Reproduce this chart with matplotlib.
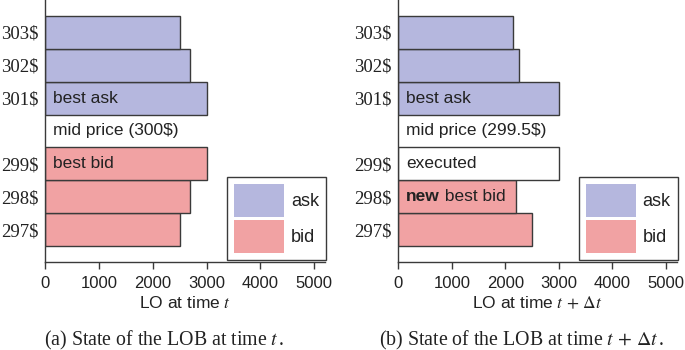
import matplotlib
matplotlib.use("Agg")
import matplotlib.pyplot as plt
from matplotlib.patches import Patch

# ---- data ----
price_ticks = [297, 298, 299, 301, 302, 303]
price_labels = ["297$", "298$", "299$", "301$", "302$", "303$"]

ask_prices = [301, 302, 303]
ask_t = [3000, 2700, 2500]
bid_prices = [297, 298, 299]
bid_t = [2500, 2700, 3000]

ask_prices_dt = [301, 302, 303]
ask_dt = [3000, 2250, 2150]
bid_prices_dt = [297, 298]
bid_dt = [2500, 2200]
executed_price = [299]
executed_vol = [3000]

x_ticks = [0, 1000, 2000, 3000, 4000, 5000]

ASK = "#b5b7de"
BID = "#f1a2a3"
EDGE = "#3a3a3a"

plt.rcParams["mathtext.fontset"] = "stix"
SANS = "Liberation Sans"
SERIF = "Liberation Serif"

fig = plt.figure(figsize=(6.85, 3.5), dpi=100)
W, H = 685, 350

def make_ax(left_px, right_px):
    return fig.add_axes([left_px / W, 1 - 261.7 / H, (right_px - left_px) / W, 261.7 / H])

ax1 = make_ax(45, 325)
ax2 = make_ax(398.3, 676.7)

def style(ax):
    ax.set_xlim(0, 5200)
    ax.set_ylim(296.02, 303.985)
    for s in ["top", "right"]:
        ax.spines[s].set_visible(False)
    for s in ["left", "bottom"]:
        ax.spines[s].set_color(EDGE)
        ax.spines[s].set_linewidth(1.0)
    ax.set_xticks(x_ticks)
    ax.set_xticklabels([str(v) for v in x_ticks], fontfamily=SANS, fontsize=12)
    ax.tick_params(axis="x", length=5, width=1.0, color=EDGE, pad=5, labelcolor="#222222")
    ax.set_yticks(price_ticks)
    ax.set_yticklabels(price_labels, fontfamily=SERIF, fontsize=13.5)
    ax.tick_params(axis="y", length=0, pad=4.8, labelcolor="#222222")
    leg = ax.legend(handles=[Patch(facecolor=ASK, edgecolor="none", label="ask"),
                             Patch(facecolor=BID, edgecolor="none", label="bid")],
                    loc="lower right", bbox_to_anchor=(1.004, 0.006), borderaxespad=0,
                    prop={"family": SANS, "size": 13}, fancybox=False, framealpha=1,
                    edgecolor=EDGE, handlelength=2.77, handleheight=2.43,
                    labelspacing=0.18, borderpad=0.4, handletextpad=0.37)
    leg.get_frame().set_linewidth(1.0)
    for t in leg.get_texts():
        t.set_color("#222222")

def label(ax, y, s, **kw):
    ax.annotate(s, xy=(0, y), xytext=(8, 0), textcoords="offset pixels",
                va="center", ha="left", fontfamily=SANS, fontsize=12.5, color="#222222", **kw)

# panel (a)
ax1.barh(ask_prices, ask_t, height=1.0, color=ASK, edgecolor=EDGE, linewidth=1.0)
ax1.barh(bid_prices, bid_t, height=1.0, color=BID, edgecolor=EDGE, linewidth=1.0)
style(ax1)
ax1.set_xlabel("LO at time $t$", fontfamily=SANS, fontsize=12.5, color="#222222", labelpad=3)
label(ax1, 301, "best ask")
label(ax1, 300, "mid price (300$)")
label(ax1, 299, "best bid")

# panel (b)
ax2.barh(ask_prices_dt, ask_dt, height=1.0, color=ASK, edgecolor=EDGE, linewidth=1.0)
ax2.barh(bid_prices_dt, bid_dt, height=1.0, color=BID, edgecolor=EDGE, linewidth=1.0)
ax2.barh(executed_price, executed_vol, height=1.0, color="white", edgecolor=EDGE, linewidth=1.0)
style(ax2)
ax2.set_xlabel(r"LO at time $t\,+\,\Delta t$", fontfamily=SANS, fontsize=12.5, color="#222222", labelpad=3)
label(ax2, 301, "best ask")
label(ax2, 300, "mid price (299.5$)")
label(ax2, 299, "executed")
t_new = ax2.annotate("new", xy=(0, 298), xytext=(8, 0), textcoords="offset pixels",
                     va="center", ha="left", fontsize=12.5, color="#222222",
                     fontfamily=SANS, fontweight="bold")
ax2.annotate(" best bid", xy=(1, 0.5), xycoords=t_new, va="center", ha="left",
             fontsize=12.5, color="#222222", fontfamily=SANS)

fig.text(164 / W, 1 - 340 / H, r"(a) State of the LOB at time $t\,$.", ha="center", va="center",
         fontfamily=SERIF, fontsize=14.3, color="#222222")
fig.text(522 / W, 1 - 340 / H, r"(b) State of the LOB at time $t\,+\,\Delta t\,$.", ha="center", va="center",
         fontfamily=SERIF, fontsize=14.3, color="#222222")

fig.savefig("out.png", dpi=100)
